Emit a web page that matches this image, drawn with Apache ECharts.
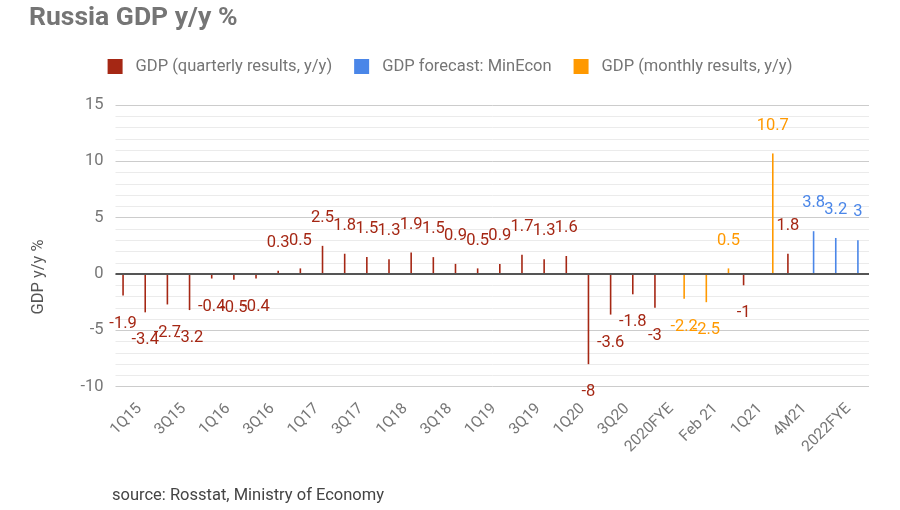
<!DOCTYPE html>
<html>
<head>
<meta charset="utf-8">
<script src="https://cdn.jsdelivr.net/npm/echarts@6/dist/echarts.min.js"></script>
<style>
  html, body { margin: 0; padding: 0; background: #fff; }
  #chart { width: 900px; height: 510px; }
</style>
</head>
<body>
<div id="chart"></div>
<script>
const categories = ["1Q15", "2Q15", "3Q15", "4Q15", "1Q16", "2Q16", "3Q16", "4Q16",
  "1Q17", "2Q17", "3Q17", "4Q17", "1Q18", "2Q18", "3Q18", "4Q18",
  "1Q19", "2Q19", "3Q19", "4Q19", "1Q20", "2Q20", "3Q20", "4Q20", "2020FYE",
  "Jan 21", "Feb 21", "Mar 21", "1Q21", "Apr 21", "4M21", "2021FYE", "2022FYE", "2023FYE"];

const quarterly = [-1.9, -3.4, -2.7, -3.2, -0.4, -0.5, -0.4, 0.3,
  0.5, 2.5, 1.8, 1.5, 1.3, 1.9, 1.5, 0.9,
  0.5, 0.9, 1.7, 1.3, 1.6, -8, -3.6, -1.8, -3,
  null, null, null, -1, null, 1.8, null, null, null];

const forecast = [null, null, null, null, null, null, null, null,
  null, null, null, null, null, null, null, null,
  null, null, null, null, null, null, null, null, null,
  null, null, null, null, null, null, 3.8, 3.2, 3];

const monthly = [null, null, null, null, null, null, null, null,
  null, null, null, null, null, null, null, null,
  null, null, null, null, null, null, null, null, null,
  -2.2, -2.5, 0.5, null, 10.7, null, null, null, null];

const yTicks = [-10, -5, 0, 5, 10, 15];

const FONT = "Roboto";

// negative bars get their label below the bar end
function withLabels(values) {
  return values.map(v => (v == null ? null : v < 0 ? { value: v, label: { position: "bottom" } } : v));
}

function barSeries(name, values, color) {
  return {
    type: "bar",
    name: name,
    data: withLabels(values),
    barWidth: 1.6,
    barGap: "120%",
    itemStyle: { color: color },
    label: {
      show: true,
      position: "top",
      distance: 19.5,
      color: color,
      fontFamily: FONT,
      fontSize: 16.5,
      lineHeight: 17
    }
  };
}

const chart = echarts.init(document.getElementById("chart"), null, { renderer: "canvas" });

const series = [
  barSeries("GDP (quarterly results, y/y)", quarterly, "#a52714"),
  barSeries("GDP forecast: MinEcon", forecast, "#4a86e8"),
  barSeries("GDP (monthly results, y/y)", monthly, "#ff9900")
];
// zero baseline
series[0].markLine = {
  silent: true,
  symbol: ["none", "none"],
  label: { show: false },
  lineStyle: { color: "#555", width: 2, type: "solid" },
  data: [{ yAxis: 0 }]
};

chart.setOption({
  animation: false,
  backgroundColor: "#fff",
  title: [
    {
      text: "Russia GDP y/y %",
      left: 29,
      top: 5,
      padding: 0,
      textStyle: { fontFamily: FONT, fontSize: 26.5, fontWeight: "bold", color: "#757575" }
    },
    {
      text: "source: Rosstat, Ministry of Economy",
      left: 112,
      top: 487,
      padding: 0,
      textStyle: { fontFamily: FONT, fontSize: 16.5, fontWeight: "normal", color: "#444" }
    }
  ],
  legend: {
    top: 58,
    left: "center",
    padding: 0,
    itemWidth: 15,
    itemHeight: 15,
    itemGap: 22,
    icon: "rect",
    textStyle: { fontFamily: FONT, fontSize: 16.5, color: "#757575", padding: [0, 0, 0, 8] }
  },
  graphic: [
    {
      type: "text",
      x: 39,
      y: 277,
      rotation: Math.PI / 2,
      style: {
        text: "GDP y/y %",
        fill: "#555",
        fontFamily: FONT,
        fontSize: 16.5,
        align: "center",
        verticalAlign: "middle"
      }
    }
  ],
  grid: { left: 115.5, right: 31, top: 105, bottom: 123.3 },
  xAxis: {
    type: "category",
    data: categories,
    axisLine: { show: false, onZero: false },
    axisTick: { show: false },
    axisLabel: {
      interval: 1,
      rotate: 45,
      margin: 21,
      verticalAlign: "top",
      padding: [0, -10, 0, 0],
      fontFamily: FONT,
      fontSize: 15.5,
      color: "#777"
    }
  },
  yAxis: {
    type: "value",
    min: yTicks[0],
    max: yTicks[yTicks.length - 1],
    interval: 5,
    axisLine: { show: false },
    axisTick: { show: false },
    axisLabel: { margin: 12, fontFamily: FONT, fontSize: 16.5, color: "#777" },
    splitLine: { lineStyle: { color: "#ccc", width: 1 } },
    minorTick: { show: false, splitNumber: 5 },
    minorSplitLine: { show: true, lineStyle: { color: "#ebebeb", width: 1 } }
  },
  series: series
});
</script>
</body>
</html>
